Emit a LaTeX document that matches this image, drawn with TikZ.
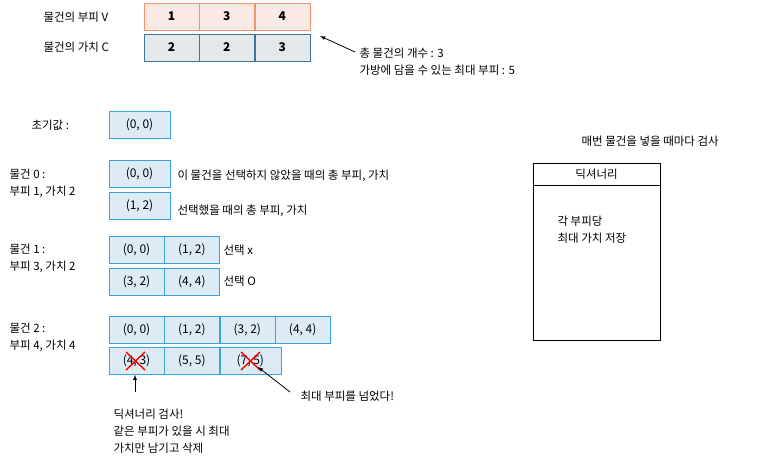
\documentclass[tikz,border=0pt]{standalone}
\usepackage{fontspec}
\setmainfont{Noto Sans CJK KR}
\usetikzlibrary{positioning}
\definecolor{vfill}{HTML}{FBE9E6}
\definecolor{vline}{HTML}{F0946E}
\definecolor{cfill}{HTML}{E4E8EB}
\definecolor{cline}{HTML}{3F7596}
\definecolor{sfill}{HTML}{DDEBF6}
\definecolor{sline}{HTML}{3DA5DE}
\tikzset{
    cellV/.style = {draw=vline, fill=vfill, minimum width=55pt, minimum height=27pt, font=\fontsize{12}{14}\selectfont\bfseries},
    cellC/.style = {draw=cline, fill=cfill, minimum width=55pt, minimum height=27pt, font=\fontsize{12}{14}\selectfont\bfseries},
    st/.style = {draw=sline, fill=sfill, minimum width=55pt, minimum height=27pt, inner sep=0pt, font=\fontsize{12}{14}\selectfont},
    lbl/.style = {anchor=west, align=left, font=\fontsize{11.5}{14}\selectfont},
    arr/.style = {-latex, thick},
    cross/.style = {red, line width=1.4pt}
}
\begin{document}
\begin{tikzpicture}[x=1pt, y=-1pt]
    \useasboundingbox (0,0) rectangle (773,470);
    % weights and values
    \node[cellV] (v1) at (171.5,16.5) {1};
    \node[cellV, right=0pt of v1] (v2) {3};
    \node[cellV, right=0pt of v2] (v3) {4};
    \node[cellC] (c1) at (171.5,47.5) {2};
    \node[cellC, right=0pt of c1] (c2) {2};
    \node[cellC, right=0pt of c2] (c3) {3};
    \node[lbl] (lv) at (40,17) {물건의 부피 V};
    \node[lbl] (lc) at (40,47) {물건의 가치 C};
    \node[lbl] (info) at (356,62) {총 물건의 개수 : 3\\[3pt]가방에 담을 수 있는 최대 부피 : 5};
    \coordinate (infoarr) at (355,52);
    \draw[arr] (infoarr) -- (320,36);
    % initial
    \node[lbl] (linit) at (28,125) {초기값 :};
    \node[st, minimum width=61pt] (s0) at (139.5,124.5) {(0, 0)};
    % item 0
    \node[lbl] (l0) at (6,183) {물건 0 :\\[3pt]부피 1, 가치 2};
    \node[st, minimum width=61pt] (a1) at (139.5,173.5) {(0, 0)};
    \node[st, minimum width=61pt] (a2) at (139.5,205.5) {(1, 2)};
    \node[lbl] (t0a) at (174,176) {이 물건을 선택하지 않았을 때의 총 부피, 가치};
    \node[lbl] (t0b) at (174,211) {선택했을 때의 총 부피, 가치};
    % item 1
    \node[lbl] (l1) at (6,258) {물건 1 :\\[3pt]부피 3, 가치 2};
    \node[st] (b1) at (136.5,249.5) {(0, 0)};
    \node[st, right=0pt of b1] (b2) {(1, 2)};
    \node[st] (b3) at (136.5,282) {(3, 2)};
    \node[st, right=0pt of b3] (b4) {(4, 4)};
    \node[lbl] (t1a) at (220,250) {선택 x};
    \node[lbl] (t1b) at (220,281) {선택 O};
    % item 2
    \node[lbl] (l2) at (6,337) {물건 2 :\\[3pt]부피 4, 가치 4};
    \node[st] (d1) at (136.5,329.5) {(0, 0)};
    \node[st, right=0pt of d1] (d2) {(1, 2)};
    \node[st, right=0pt of d2] (d3) {(3, 2)};
    \node[st, right=0pt of d3] (d4) {(4, 4)};
    \node[st] (e1) at (136.5,361) {(4, 3)};
    \node[st, right=0pt of e1] (e2) {(5, 5)};
    \node[st, right=0pt of e2, minimum width=61pt] (e3) {(7, 5)};
    \draw[cross] (126,352) -- (145,370) (126,370) -- (145,352);
    \draw[cross] (241,352) -- (260,370) (241,370) -- (260,352);
    \coordinate (up) at (135,392);
    \draw[arr] (up) -- (e1.south -| up);
    \node[lbl] (t2a) at (110,431) {딕셔너리 검사!\\[3pt]같은 부피가 있을 시 최대\\[3pt]가치만 남기고 삭제};
    \node[lbl] (t2b) at (297,396) {최대 부피를 넘었다!};
    \coordinate (overarr) at (290,392);
    \draw[arr] (overarr) -- (258,367);
    % dictionary
    \node[lbl] (dtitle) at (578,141) {매번 물건을 넣을 때마다 검사};
    \node[draw, thick, minimum width=127pt, minimum height=177pt, inner sep=0pt] (dict) at (596.5,251.5) {};
    \draw[thick] (dict.north west |- 0,185) -- (dict.north east |- 0,185);
    \node[font=\fontsize{11.5}{14}\selectfont] (dhead) at (596.5,174) {딕셔너리};
    \node[lbl] (dbody) at (554,230) {각 부피당\\[3pt]최대 가치 저장};
\end{tikzpicture}
\end{document}
